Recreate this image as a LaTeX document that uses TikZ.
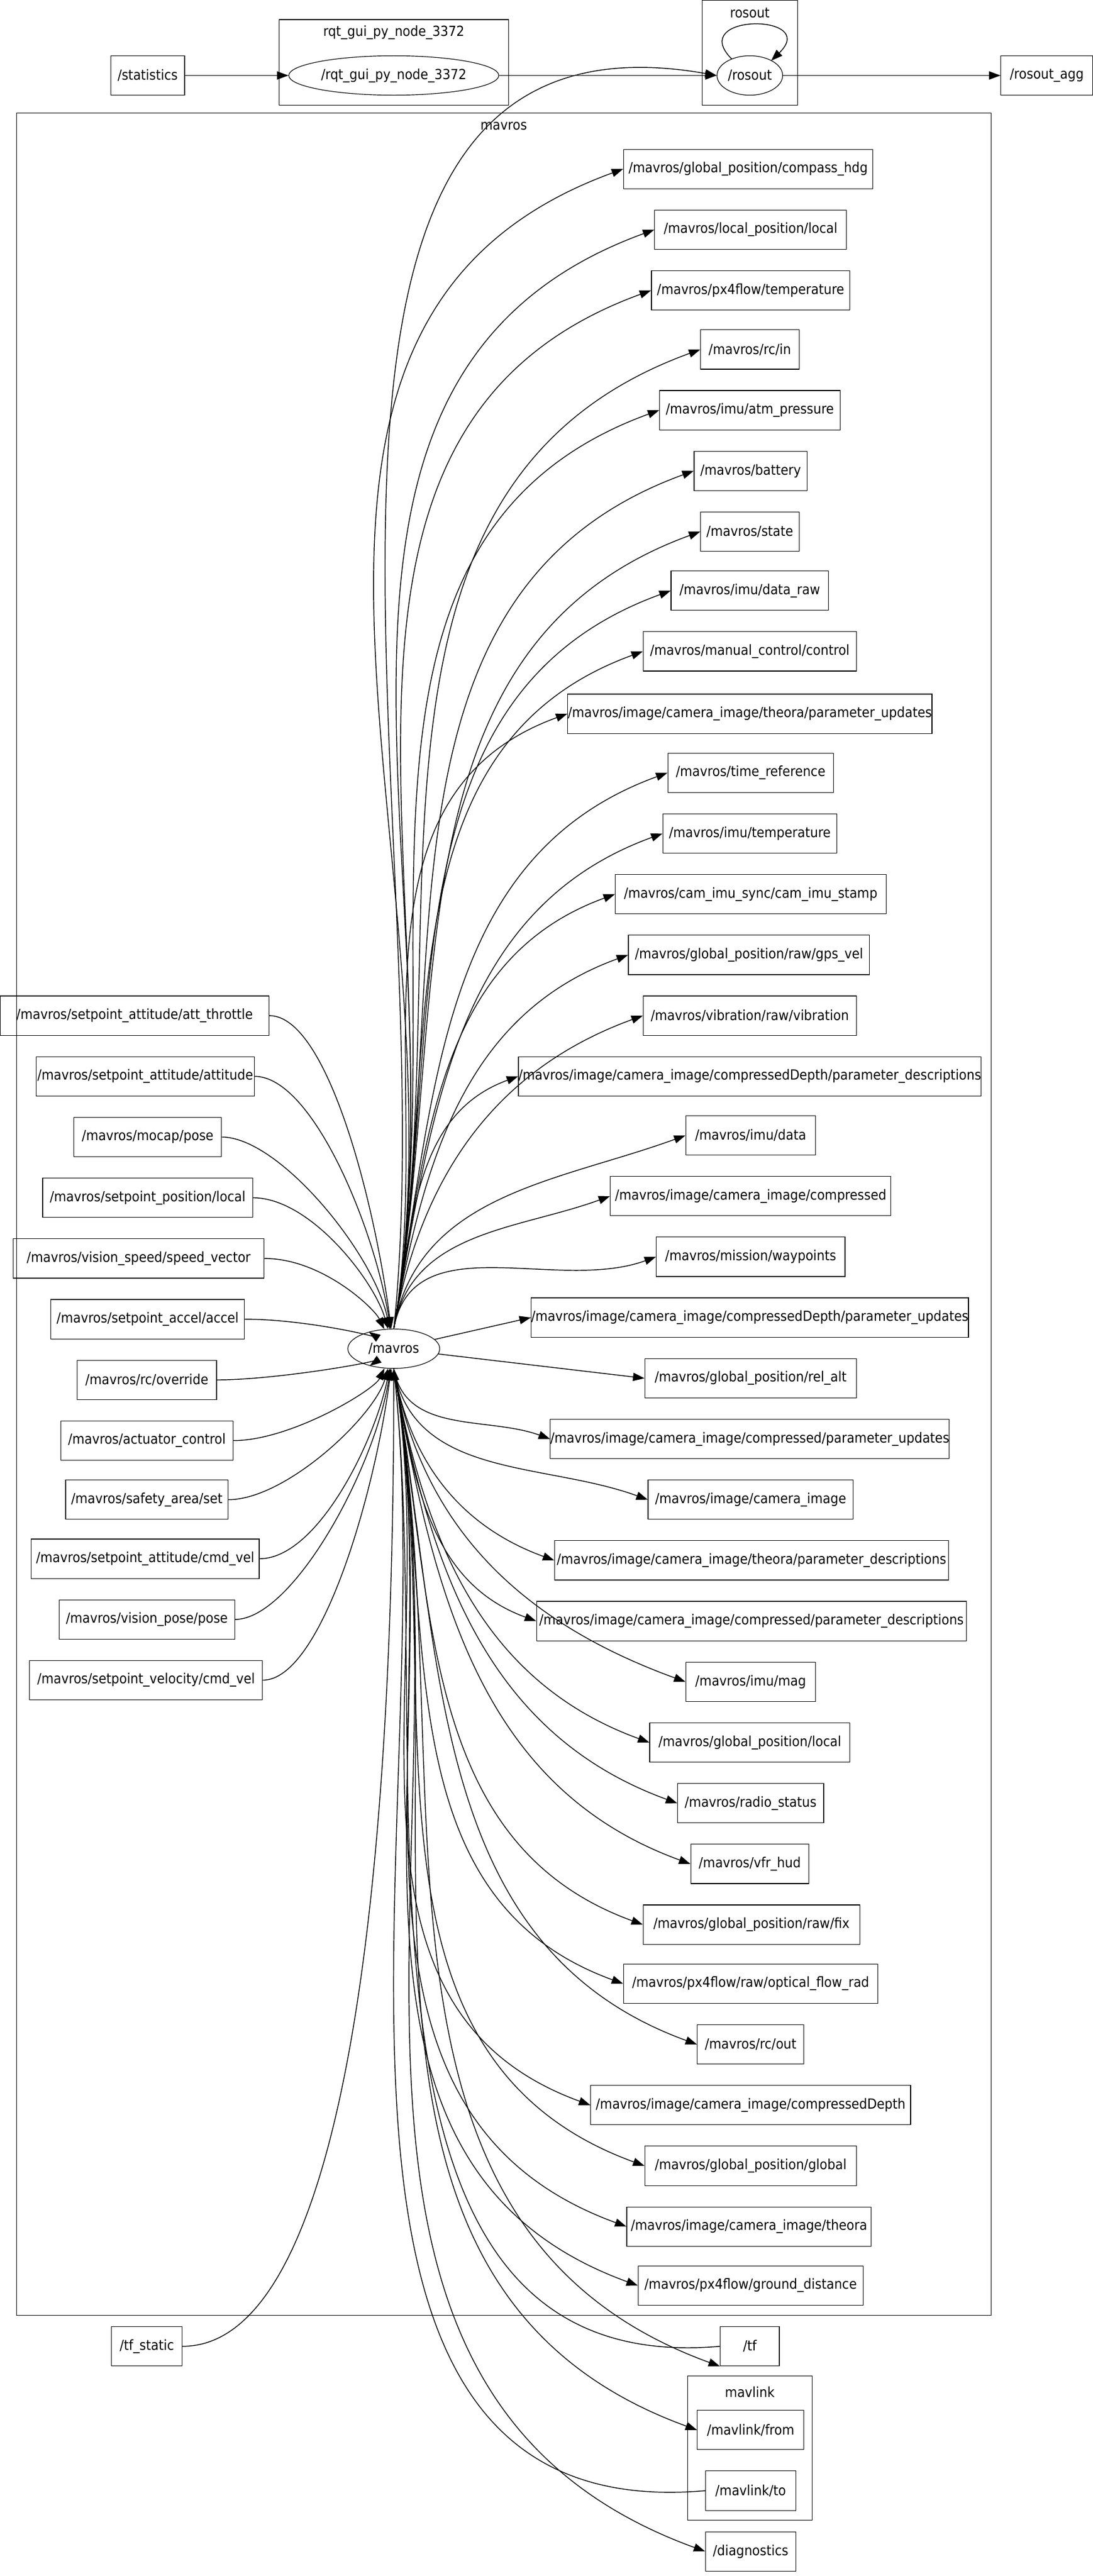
\documentclass[tikz,border=0pt]{standalone}
\usepackage{fontspec}
\setmainfont{DejaVu Sans}[FakeStretch=0.9]
\usetikzlibrary{arrows.meta,shapes.geometric,calc}
\begin{document}
\begin{tikzpicture}[x=1pt,y=-1pt,
  font=\fontsize{8.5}{10}\selectfont,
  topic/.style={draw,rectangle,inner sep=0pt,minimum height=24pt},
  nd/.style={draw,ellipse,inner sep=0pt},
  clu/.style={draw},
  e/.style={-{Triangle[length=7pt,width=5pt]},line width=0.5pt}]
\useasboundingbox (0,0) rectangle (666,1570);
% clusters
\draw[clu] (170,12) rectangle (310,64); \node (crqt) at (240,20) {rqt\_gui\_py\_node\_3372};
\draw[clu] (428,0) rectangle (486,64); \node (cros) at (457,8) {rosout};
\draw[clu] (10,69) rectangle (604,1411); \node (cmav) at (307,77) {mavros};
\draw[clu] (419,1448) rectangle (495,1536); \node (cml) at (457,1458) {mavlink};
% top nodes
\node[topic,minimum width=45pt] (stat) at (90,46) {/statistics};
\node[nd,minimum width=128pt,minimum height=24pt] (rqt) at (240,46) {/rqt\_gui\_py\_node\_3372};
\node[nd,minimum width=40pt,minimum height=24pt] (ro) at (457,46) {/rosout};
\node[topic,minimum width=56pt] (agg) at (638,46) {/rosout\_agg};
\node[nd,minimum width=56pt,minimum height=24pt] (m) at (240,822) {/mavros};
\draw[e] (stat) -- (rqt);
\draw[e] (rqt) -- (ro);
\draw[e] (ro) -- (agg);
\draw[e] (446,36) .. controls (418,8) and (500,8) .. (470,37);
\draw[e] (m.north) to[out=84,in=170] (ro.west);
% right topics
\foreach \n/\t/\xa/\xb/\y in {
r1/{/mavros/global\_position/compass\_hdg}/380/532/103,
r2/{/mavros/local\_position/local}/399/516/140,
r3/{/mavros/px4flow/temperature}/397/518/177,
r4/{/mavros/rc/in}/427/487/213,
r5/{/mavros/imu/atm\_pressure}/402/512/250,
r6/{/mavros/battery}/423/492/287,
r7/{/mavros/state}/427/487/324,
r8/{/mavros/imu/data\_raw}/409/505/360,
r9/{/mavros/manual\_control/control}/392/522/397,
r10/{/mavros/image/camera\_image/theora/parameter\_updates}/346/568/435,
r11/{/mavros/time\_reference}/407/508/471,
r12/{/mavros/imu/temperature}/404/510/508,
r13/{/mavros/cam\_imu\_sync/cam\_imu\_stamp}/375/540/545,
r14/{/mavros/global\_position/raw/gps\_vel}/383/530/582,
r15/{/mavros/vibration/raw/vibration}/392/522/619,
r16/{/mavros/image/camera\_image/compressedDepth/parameter\_descriptions}/316/598/656,
r17/{/mavros/imu/data}/418/497/692,
r18/{/mavros/image/camera\_image/compressed}/372/543/729,
r19/{/mavros/mission/waypoints}/400/515/766,
r20/{/mavros/image/camera\_image/compressedDepth/parameter\_updates}/324/590/803,
r21/{/mavros/global\_position/rel\_alt}/393/522/840,
r22/{/mavros/image/camera\_image/compressed/parameter\_updates}/336/578/877,
r23/{/mavros/image/camera\_image}/395/520/914,
r24/{/mavros/image/camera\_image/theora/parameter\_descriptions}/338/578/951,
r25/{/mavros/image/camera\_image/compressed/parameter\_descriptions}/327/589/988,
r26/{/mavros/imu/mag}/418/497/1025,
r27/{/mavros/global\_position/local}/396/518/1062,
r28/{/mavros/radio\_status}/413/502/1099,
r29/{/mavros/vfr\_hud}/421/493/1136,
r30/{/mavros/global\_position/raw/fix}/392/524/1173,
r31/{/mavros/px4flow/raw/optical\_flow\_rad}/380/535/1209,
r32/{/mavros/rc/out}/425/490/1246,
r33/{/mavros/image/camera\_image/compressedDepth}/360/555/1283,
r34/{/mavros/global\_position/global}/393/522/1320,
r35/{/mavros/image/camera\_image/theora}/382/531/1357,
r36/{/mavros/px4flow/ground\_distance}/389/526/1393,
mf/{/mavlink/from}/425/490/1481,
dg/{/diagnostics}/430/485/1555}{
  \pgfmathsetmacro{\cx}{(\xa+\xb)/2}
  \pgfmathsetmacro{\ww}{\xb-\xa}
  \node[topic,minimum width=\ww pt] (\n) at (\cx,\y) {\t};
  \pgfmathsetmacro{\dy}{\y-822}
  \ifdim \dy pt < -30pt
    \draw[e] (m.north) to[out=80,in=200] (\n.west);
  \else\ifdim \dy pt > 30pt
    \draw[e] (m.south) to[out=-80,in=160] (\n.west);
  \else
    \draw[e] (m) -- (\n.west);
  \fi\fi
}
\node[topic,minimum width=36pt] (tf) at (457,1430) {/tf};
\node[topic,minimum width=55pt] (mt) at (457.5,1518) {/mavlink/to};
\draw[e] (m.south) to[out=-80,in=160] (tf.south west);
\draw[e] (tf.west) to[out=185,in=-84] (m.south);
\draw[e] (mt.west) to[out=185,in=-84] (m.south);
% left topics
\foreach \n/\t/\xa/\xb/\y in {
l1/{/mavros/setpoint\_attitude/att\_throttle}/0/164/619,
l2/{/mavros/setpoint\_attitude/attitude}/22/155/656,
l3/{/mavros/mocap/pose}/45/135/693,
l4/{/mavros/setpoint\_position/local}/26/154/730,
l5/{/mavros/vision\_speed/speed\_vector}/8/161/767,
l6/{/mavros/setpoint\_accel/accel}/31/149/804,
l7/{/mavros/rc/override}/47/132/841,
l8/{/mavros/actuator\_control}/37/142/878,
l9/{/mavros/safety\_area/set}/40/139/914,
l10/{/mavros/setpoint\_attitude/cmd\_vel}/19/158/950,
l11/{/mavros/vision\_pose/pose}/36/143/987,
l12/{/mavros/setpoint\_velocity/cmd\_vel}/18/160/1024}{
  \pgfmathsetmacro{\cx}{(\xa+\xb)/2}
  \pgfmathsetmacro{\ww}{\xb-\xa}
  \node[topic,minimum width=\ww pt] (\n) at (\cx,\y) {\t};
  \pgfmathsetmacro{\cy}{(\y-822)*0.45}
  \draw[e] (\n.east) .. controls ($(\n.east)+(35,0)$) and ($(m)+(-12,\cy)$) .. (m);
}
\node[topic,minimum width=43pt] (ts) at (89.5,1430) {/tf\_static};
\draw[e] (ts.east) .. controls (200,1430) and (240,1200) .. (m);
\end{tikzpicture}
\end{document}
